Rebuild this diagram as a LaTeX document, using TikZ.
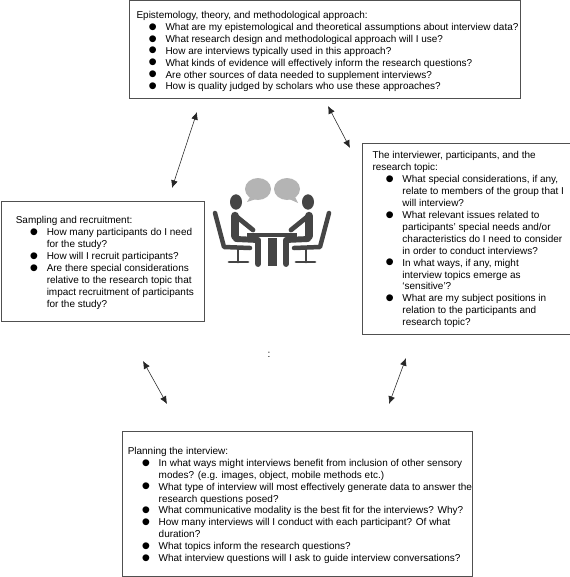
\documentclass[tikz,border=0pt]{standalone}
\usepackage{fontspec}
\setmainfont{Liberation Sans}
\usetikzlibrary{arrows}
\usetikzlibrary{arrows.meta}
\usetikzlibrary{positioning}

\definecolor{boxline}{HTML}{505050}
\definecolor{figdark}{HTML}{454545}
\definecolor{figlight}{HTML}{B4B4B4}

\newcommand{\qbul}{\raisebox{-0.9ex}[0pt][0pt]{\scalebox{2.5}{\textbullet}}}
\newenvironment{qlist}[2]{\begin{list}{\qbul}{\setlength{\leftmargin}{#1}\setlength{\labelsep}{#2}\setlength{\labelwidth}{10pt}\setlength{\topsep}{0pt}\setlength{\partopsep}{0pt}\setlength{\itemsep}{0pt}\setlength{\parsep}{0pt}\setlength{\parskip}{0pt}}\raggedright}{\end{list}}

\tikzset{
    qbox/.style={draw=boxline, line width=0.75pt, anchor=north west, inner xsep=0pt, inner ysep=0pt, font=\fontsize{7.1}{8.48}\selectfont},
    link/.style={black!85, line width=0.4pt, {Latex[length=5.5pt,width=4.8pt]}-{Latex[length=5.5pt,width=4.8pt]}},
    figure/.style={figdark, line width=4.2pt, line cap=round, line join=round},
    seat/.style={figdark, line width=3.2pt, line cap=round, line join=round}
}

\begin{document}
\begin{tikzpicture}[x=0.025cm,y=-0.025cm]
    \useasboundingbox (0,0) rectangle (570,577);

    % the four boxes
    \node[qbox, minimum width=391*0.711pt, minimum height=98*0.711pt] (theory) at (129,0) {\hspace*{5pt}\parbox{273pt}{%
        \vspace*{3pt}Epistemology, theory, and methodological approach:
        \begin{qlist}{20.6pt}{6pt}
            \item What are my epistemological and theoretical assumptions about interview data?
            \item What research design and methodological approach will I use?
            \item How are interviews typically used in this approach?
            \item What kinds of evidence will effectively inform the research questions?
            \item Are other sources of data needed to supplement interviews?
            \item How is quality judged by scholars who use these approaches?
        \end{qlist}}};
    \node[qbox, minimum width=208*0.711pt, minimum height=191*0.711pt] (people) at (362,143) {\hspace*{7.1pt}\parbox{140.8pt}{%
        \vspace*{1pt}The interviewer, participants, and the\newline research topic:
        \begin{qlist}{21.3pt}{6pt}
            \item What special considerations, if any,\newline relate to members of the group that I\newline will interview?
            \item What relevant issues related to\newline participants’ special needs and/or\newline characteristics do I need to consider\newline in order to conduct interviews?
            \item In what ways, if any, might\newline interview topics emerge as\newline ‘sensitive’?
            \item What are my subject positions in\newline relation to the participants and\newline research topic?
        \end{qlist}}};
    \node[qbox, minimum width=203*0.711pt, minimum height=120*0.711pt] (sampling) at (1,201) {\hspace*{10pt}\parbox{134pt}{%
        \vspace*{2pt}Sampling and recruitment:
        \begin{qlist}{22pt}{6pt}
            \item How many participants do I need\newline for the study?
            \item How will I recruit participants?
            \item Are there special considerations\newline relative to the research topic that\newline impact recruitment of participants\newline for the study?
        \end{qlist}}};
    \node[qbox, minimum width=350*0.711pt, minimum height=145*0.711pt] (planning) at (122,431) {\hspace*{3.6pt}\parbox{245pt}{%
        \vspace*{2pt}Planning the interview:
        \begin{qlist}{22pt}{6pt}
            \item In what ways might interviews benefit from inclusion of other sensory\newline modes? (e.g. images, object, mobile methods etc.)
            \item What type of interview will most effectively generate data to answer the\newline research questions posed?
            \item What communicative modality is the best fit for the interviews? Why?
            \item How many interviews will I conduct with each participant? Of what\newline duration?
            \item What topics inform the research questions?
            \item What interview questions will I ask to guide interview conversations?
        \end{qlist}}};
    \node[font=\fontsize{7.1}{8.48}\selectfont, inner sep=0pt] (dots) at (269,355) {:};

    % arrows between the boxes
    \coordinate (theoryL) at (197,112);
    \coordinate (samplingT) at (172,188);
    \coordinate (theoryR) at (328,106);
    \coordinate (peopleT) at (350,148);
    \coordinate (samplingB) at (143,361);
    \coordinate (planningL) at (167,404);
    \coordinate (peopleB) at (406,358);
    \coordinate (planningR) at (389,404);
    \draw[link] (theoryL) -- (samplingT);
    \draw[link] (theoryR) -- (peopleT);
    \draw[link] (samplingB) -- (planningL);
    \draw[link] (peopleB) -- (planningR);

    % speech bubbles
    \fill[figlight] (258,189) ellipse (13 and 11);
    \fill[figlight] (287,189) ellipse (13 and 11);
    \fill[figlight] (250,197) -- (247,202) -- (256,199) -- cycle;
    \fill[figlight] (295,197) -- (298,203) -- (289,199) -- cycle;

    % table
    \draw[figure, line width=2.2pt, line cap=butt] (247,235) -- (297,235);
    \fill[figdark] (268,238) rectangle (277,266);

    % the two people
    \foreach \sx/\px in {1/0, -1/544} {
        \begin{scope}[xshift=\px*0.025cm, x=\sx*0.025cm]
            \fill[figdark] (236,202) ellipse (6 and 7.7);
            \draw[figure, line width=6pt] (235,216) -- (235,236);
            \draw[figure] (236,239) -- (258,240) -- (258,264);
            \draw[figure, line width=3.4pt] (237,217) -- (253,230);
            \draw[seat] (215,213) -- (224,247) -- (250,248);
            \draw[seat, line width=2.1pt] (238,249) -- (238,262);
            \draw[seat, line width=2pt] (229,262) -- (248,262);
        \end{scope}
    }
\end{tikzpicture}
\end{document}
